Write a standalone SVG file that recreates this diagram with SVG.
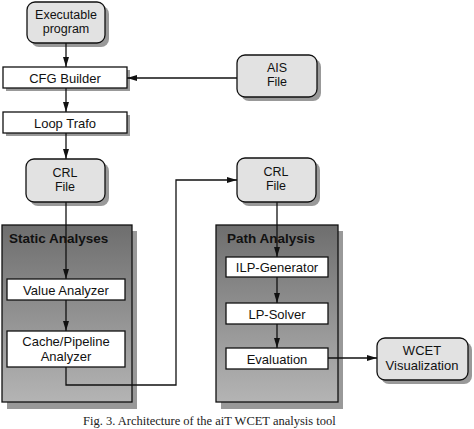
<svg xmlns="http://www.w3.org/2000/svg" width="474" height="429" viewBox="0 0 474 429">
<style>
text{font-family:"Liberation Sans",Arial,sans-serif;font-size:13px;fill:#111;text-anchor:middle}
.two{font-size:12.5px}
.title{font-weight:bold;text-anchor:start;font-size:13.5px}
.file{fill:#e2e2e2;stroke:#111;stroke-width:1.3}
.box{fill:#fff;stroke:#111;stroke-width:1.3}
.sh{fill:#999}
.grp{fill:url(#g);stroke:#111;stroke-width:1.3}
.c{fill:none;stroke:#111;stroke-width:1.3}
.cap{font-family:"Liberation Serif","Times New Roman",serif;font-size:12.5px;text-anchor:start;fill:#222}
</style>
<defs>
<linearGradient id="g" x1="0" y1="0" x2="0" y2="1">
<stop offset="0" stop-color="#6e6e6e"/>
<stop offset="1" stop-color="#b4b4b4"/>
</linearGradient>
<marker id="a" viewBox="0 0 10 6" refX="10" refY="3" markerWidth="10" markerHeight="6" markerUnits="userSpaceOnUse" orient="auto">
<path d="M0,0 L10,3 L0,6 z" fill="#111"/>
</marker>
</defs>
<rect width="474" height="429" fill="#fff"/>

<g id="static-analyses">
<rect class="sh" x="7" y="231" width="130" height="178"/>
<rect class="grp" x="2" y="225" width="130" height="177"/>
<text class="title" x="9" y="243">Static Analyses</text>
</g>
<g id="path-analysis">
<rect class="sh" x="221" y="231" width="122" height="178"/>
<rect class="grp" x="216" y="225" width="122" height="177"/>
<text class="title" x="227" y="243">Path Analysis</text>
</g>

<g id="exec">
<rect class="sh" x="31" y="6" width="78" height="41" rx="8"/>
<rect class="file" x="27" y="2" width="78" height="41" rx="8"/>
<text class="two" x="66" y="19">Executable</text>
<text class="two" x="66" y="33">program</text>
</g>
<g id="cfg">
<rect class="sh" x="6" y="70" width="124" height="21"/>
<rect class="box" x="3" y="67" width="124" height="21"/>
<text x="65" y="82.5">CFG Builder</text>
</g>
<g id="loop">
<rect class="sh" x="6" y="115" width="124" height="21"/>
<rect class="box" x="3" y="112" width="124" height="21"/>
<text x="65" y="128">Loop Trafo</text>
</g>
<g id="crl1">
<rect class="sh" x="30" y="163" width="79" height="43" rx="8"/>
<rect class="file" x="26" y="159" width="79" height="43" rx="8"/>
<text class="two" x="65" y="177">CRL</text>
<text class="two" x="65" y="191">File</text>
</g>
<g id="ais">
<rect class="sh" x="241" y="59" width="80" height="42" rx="8"/>
<rect class="file" x="237" y="55" width="80" height="42" rx="8"/>
<text class="two" x="277" y="72">AIS</text>
<text class="two" x="277" y="86">File</text>
</g>
<g id="crl2">
<rect class="sh" x="241" y="162" width="79" height="44" rx="8"/>
<rect class="file" x="237" y="158" width="79" height="44" rx="8"/>
<text class="two" x="276" y="176">CRL</text>
<text class="two" x="276" y="190">File</text>
</g>
<g id="value">
<rect class="box" x="7" y="279" width="118" height="21"/>
<text x="66" y="294.5">Value Analyzer</text>
</g>
<g id="cache">
<rect class="box" x="7" y="331" width="118" height="36"/>
<text x="66" y="345.5">Cache/Pipeline</text>
<text x="66" y="361">Analyzer</text>
</g>
<g id="ilp">
<rect class="box" x="226" y="257" width="102" height="20"/>
<text x="277" y="272">ILP-Generator</text>
</g>
<g id="lp">
<rect class="box" x="226" y="303" width="102" height="21"/>
<text x="277" y="318.5">LP-Solver</text>
</g>
<g id="eval">
<rect class="box" x="226" y="348" width="102" height="21"/>
<text x="277" y="363.5">Evaluation</text>
</g>
<g id="wcet">
<rect class="sh" x="381" y="342" width="91" height="42" rx="8"/>
<rect class="file" x="377" y="338" width="91" height="42" rx="8"/>
<text x="422" y="355">WCET</text>
<text x="422" y="370">Visualization</text>
</g>

<g id="connectors">
<line class="c" x1="66" y1="43" x2="66" y2="67" marker-end="url(#a)"/>
<line class="c" x1="237" y1="78" x2="127" y2="78" marker-end="url(#a)"/>
<line class="c" x1="66" y1="88" x2="66" y2="112" marker-end="url(#a)"/>
<line class="c" x1="66" y1="133" x2="66" y2="159" marker-end="url(#a)"/>
<line class="c" x1="66" y1="202" x2="66" y2="279" marker-end="url(#a)"/>
<line class="c" x1="66" y1="300" x2="66" y2="331" marker-end="url(#a)"/>
<polyline class="c" points="66,367 66,385 176,385 176,180 237,180" marker-end="url(#a)"/>
<line class="c" x1="277" y1="202" x2="277" y2="257" marker-end="url(#a)"/>
<line class="c" x1="277" y1="277" x2="277" y2="303" marker-end="url(#a)"/>
<line class="c" x1="277" y1="324" x2="277" y2="348" marker-end="url(#a)"/>
<line class="c" x1="328" y1="358" x2="377" y2="358" marker-end="url(#a)"/>
</g>

<text class="cap" x="83" y="425">Fig. 3.  Architecture of the aiT WCET analysis tool</text>
</svg>
